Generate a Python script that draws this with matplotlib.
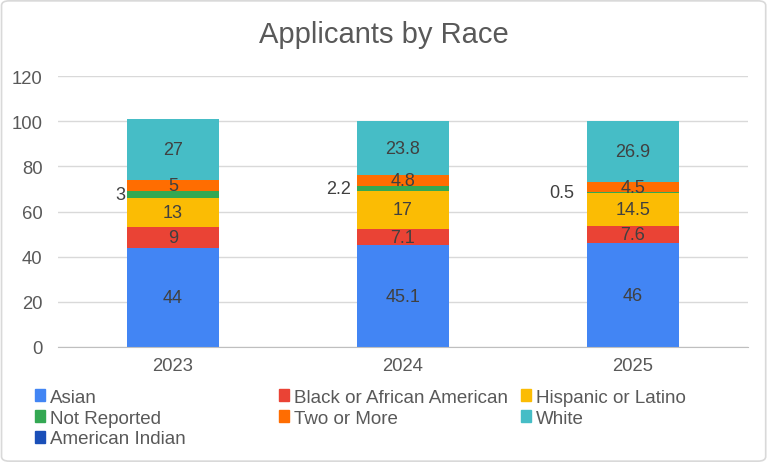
import numpy as np
import matplotlib.pyplot as plt
from matplotlib.patches import FancyBboxPatch, Patch

plt.rcParams['font.family'] = ['Liberation Sans', 'DejaVu Sans']

years = ['2023', '2024', '2025']
groups = ['Asian', 'Black or African American', 'Hispanic or Latino',
          'Not Reported', 'Two or More', 'White', 'American Indian']
asian = [44, 45.1, 46]
black = [9, 7.1, 7.6]
hispanic = [13, 17, 14.5]
not_reported = [3, 2.2, 0.5]
two_more = [5, 4.8, 4.5]
white = [27, 23.8, 26.9]
american_indian = [0, 0, 0]

colors = ['#4285F4', '#EA4335', '#FBBC04', '#34A853', '#FF6D01', '#46BDC6', '#1A4FB8']
series = [asian, black, hispanic, not_reported, two_more, white, american_indian]
# gap (px) between the outside "Not Reported" labels and their bar
nr_gap = [2, 6, 12]

fig = plt.figure(figsize=(7.68, 4.64), dpi=100)
ax = fig.add_axes([0.0755, 0.25, 0.898, 0.584])

x = np.arange(len(years))
w = 0.40
bottom = np.zeros(len(years))
for name, vals, c in zip(groups, series, colors):
    vals = np.array(vals, dtype=float)
    ax.bar(x, vals, w, bottom=bottom, color=c, label=name, zorder=2)
    for i, v in enumerate(vals):
        if v == 0:
            continue
        yc = bottom[i] + v / 2
        if name == 'Not Reported':
            ax.annotate(f'{v:g}', (x[i] - w / 2, yc), xytext=(-nr_gap[i] * 0.72, 0),
                        textcoords='offset points', ha='right', va='center',
                        fontsize=13, color='#404040')
        else:
            ax.text(x[i], yc, f'{v:g}', ha='center', va='center',
                    fontsize=13, color='#404040', zorder=3)
    bottom += vals

ax.set_xlim(-0.5, 2.5)
ax.set_ylim(0, 120)
ax.set_yticks(range(0, 121, 20))
ax.set_xticks(x)
ax.set_xticklabels(years)
ax.tick_params(axis='both', length=0, labelsize=13.3, labelcolor='#595959')
ax.tick_params(axis='y', pad=11)
ax.tick_params(axis='x', pad=7)
ax.grid(axis='y', color='#D9D9D9', linewidth=1, zorder=0)
for s in ['top', 'right', 'left']:
    ax.spines[s].set_visible(False)
ax.spines['bottom'].set_color('#BFBFBF')

fig.text(0.5, 1 - 43 / 464, 'Applicants by Race', ha='center', va='baseline',
         fontsize=21, color='#595959')

# legend, Excel style: equal-width columns filled row by row
handles = [Patch(color=c, label=g) for g, c in zip(groups, colors)]
cols = [[0, 3, 6], [1, 4], [2, 5]]
xs = [0.045, 0.363, 0.678]
for xi, idx in zip(xs, cols):
    leg = fig.legend([handles[i] for i in idx], [groups[i] for i in idx],
                     loc='upper left', bbox_to_anchor=(xi, 1 - 390 / 464), frameon=False,
                     fontsize=13.5, handlelength=0.55, handleheight=0.6,
                     handletextpad=0.25, labelspacing=0.2, borderpad=0,
                     borderaxespad=0)
    for t in leg.get_texts():
        t.set_color('#595959')

fig.patches.append(FancyBboxPatch((0.002, 0.004), 0.995, 0.992,
                                  boxstyle='round,pad=0,rounding_size=0.01',
                                  transform=fig.transFigure, fill=False,
                                  edgecolor='#D9D9D9', linewidth=1.2))

fig.savefig('out.png', dpi=100)
